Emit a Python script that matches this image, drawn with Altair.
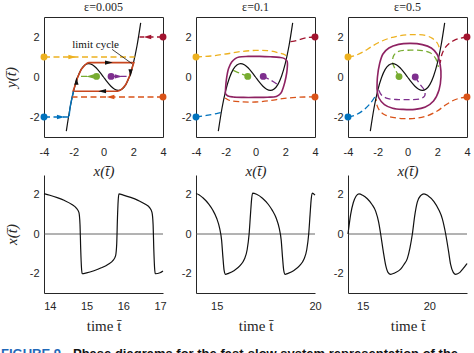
import altair as alt
import pandas as pd

SANS = "Liberation Sans"
SERIF = "Liberation Serif"
INK = "#262626"
YEL, BLU, RED, ORA, GRN, PUR = "#EDB120", "#0072BD", "#A2142F", "#D95319", "#77AC30", "#7E2F8E"
CYC1 = "#C8461F"
CYC = "#8E2262"
DASH = [6, 3.5]

# ---------------- data ----------------
titles = ["\u03b5=0.005", "\u03b5=0.1", "\u03b5=0.5"]

cubic_x = [-2.5, -2.25, -2.0, -1.75, -1.5, -1.25, -1.0, -0.75, -0.5, -0.25, 0.0,
           0.25, 0.5, 0.75, 1.0, 1.25, 1.5, 1.75, 2.0, 2.25, 2.5]
cubic_y = [-2.71, -1.55, -0.67, -0.04, 0.38, 0.60, 0.67, 0.61, 0.46, 0.245, 0.0,
           -0.245, -0.46, -0.61, -0.67, -0.60, -0.38, 0.04, 0.67, 1.55, 2.71]

# start points (dots)
start_x = [-4, -4, 4, 4]
start_y = [1.0, -2.0, 2.0, -1.0]
start_c = [YEL, BLU, RED, ORA]

# ---- panel 1 (eps = 0.005)
p1_cycle_x = [-1.0, 0.0, 1.0, 1.9, 2.04, 2.0, 1.75, 1.5, 1.25, 1.08, 0.95, 0.0, -1.0, -1.9,
              -2.04, -2.0, -1.75, -1.5, -1.25, -1.1, -1.0]
p1_cycle_y = [0.72, 0.72, 0.72, 0.72, 0.71, 0.62, 0.04, -0.38, -0.60, -0.68, -0.71, -0.71, -0.71, -0.71,
              -0.70, -0.62, -0.04, 0.38, 0.60, 0.69, 0.72]
p1_yel_x, p1_yel_y = [-4, 2.1], [1.0, 1.0]
p1_blu_x, p1_blu_y = [-4, -2.3], [-2.0, -2.0]
p1_blu2_x, p1_blu2_y = [-2.31, -2.25, -2.12, -2.02], [-1.95, -1.55, -1.05, -0.72]
p1_red_x, p1_red_y = [4, 2.42], [2.0, 2.0]
p1_ora_x, p1_ora_y = [4, -2.1], [-1.0, -1.0]
p1_grn_x, p1_grn_y = [-0.47, -1.6], [0.03, 0.03]
p1_pur_x, p1_pur_y = [0.51, 1.65], [0.03, 0.03]
p1_mid_x, p1_mid_y, p1_mid_c = [-0.47, 0.51], [0.03, 0.03], [GRN, PUR]
p1_arrow_x = [-2.1, -2.87, 2.95, 0.47, -0.91, 1.02, 0.36, -0.09, 1.82, -1.82]
p1_arrow_y = [1.0, -2.0, 2.0, -1.0, 0.03, 0.03, 0.72, -0.71, 0.2, -0.2]
p1_arrow_c = [YEL, BLU, RED, ORA, GRN, PUR, "#111111", "#111111", "#111111", "#111111"]
p1_arrow_d = ["R", "R", "L", "L", "L", "R", "R", "L", "D", "U"]
label_x, label_y, label_t = [-0.53], [1.58], ["limit cycle"]
pointer_x, pointer_y = [0.58, 1.91], [1.38, 0.67]

# ---- panel 2 (eps = 0.1)
p2_cycle_x = [-2.03, -1.97, -1.81, -1.6, -1.36, -1.1, -0.5, 0.3, 1.0, 1.6, 1.92, 2.12, 2.13, 2.05, 1.9,
              1.69, 1.4, 0.8, 0.0, -0.8, -1.5, -1.85, -2.03]
p2_cycle_y = [-0.83, -0.2, 0.42, 0.75, 0.92, 1.0, 1.03, 1.03, 1.01, 0.98, 0.93, 0.8, 0.4, 0.0, -0.45,
              -0.83, -0.97, -1.01, -1.02, -1.02, -1.0, -0.95, -0.83]
p2_yel_x = [-4, -3, -2, -1, 0, 0.8, 1.5, 2.0, 2.15]
p2_yel_y = [1.0, 1.05, 1.15, 1.27, 1.33, 1.32, 1.22, 1.1, 0.92]
p2_red_x, p2_red_y = [4, 3.5, 3.0, 2.6, 2.32], [2.0, 1.97, 1.88, 1.79, 1.77]
p2_blu_x, p2_blu_y = [-4, -3.3, -2.62, -2.3], [-2.0, -1.92, -1.83, -1.78]
p2_ora_x = [4, 3.3, 2.5, 1.8, 1.0, 0.0, -1.0, -1.7, -2.05]
p2_ora_y = [-1.0, -1.0, -1.03, -1.08, -1.18, -1.25, -1.24, -1.18, -1.05]
p2_grn_x, p2_grn_y = [-0.52, -1.0, -1.5], [0.03, 0.17, 0.33]
p2_pur_x, p2_pur_y = [0.52, 1.05, 1.58], [0.03, -0.17, -0.42]
p2_mid_x, p2_mid_y, p2_mid_c = [-0.52, 0.52], [0.03, 0.03], [GRN, PUR]

# ---- panel 3 (eps = 0.5)
p3_cycle_x = [-2.05, -2.02, -1.88, -1.65, -1.25, -0.6, 0.2, 1.0, 1.6, 1.98, 2.2, 2.25, 2.12, 1.75, 1.2,
              0.5, -0.3, -1.0, -1.55, -1.92, -2.05]
p3_cycle_y = [-0.6, 0.0, 0.65, 1.15, 1.45, 1.63, 1.68, 1.62, 1.45, 1.15, 0.6, 0.0, -0.65, -1.2, -1.5,
              -1.62, -1.62, -1.56, -1.38, -1.05, -0.6]
p3_yel_x = [-4, -3.5, -3.0, -2.5, -2.0, -1.3, -0.6, 0.3, 1.2, 1.7, 2.0, 2.15]
p3_yel_y = [1.0, 1.08, 1.25, 1.48, 1.7, 1.92, 2.05, 2.12, 2.08, 1.92, 1.7, 1.45]
p3_red_x, p3_red_y = [4, 3.5, 3.1, 2.8, 2.5, 2.3, 2.2], [2.0, 1.93, 1.82, 1.67, 1.43, 1.1, 0.7]
p3_ora_x = [4, 3.5, 3.0, 2.5, 2.0, 1.3, 0.5, -0.3, -1.0, -1.5, -1.85, -2.05, -2.12]
p3_ora_y = [-1.0, -1.06, -1.2, -1.43, -1.7, -1.95, -2.07, -2.08, -2.02, -1.9, -1.7, -1.42, -1.1]
p3_blu_x, p3_blu_y = [-4, -3.5, -3.0, -2.5, -2.2], [-2.0, -1.9, -1.68, -1.32, -1.0]
p3_grn_x = [-0.57, -0.8, -1.0, -0.92, -0.6, 0.2, 1.0, 1.55, 1.9, 2.08]
p3_grn_y = [0.02, 0.35, 0.72, 1.08, 1.28, 1.34, 1.32, 1.2, 0.92, 0.5]
p3_pur_x = [0.52, 0.85, 1.15, 1.15, 0.8, 0.2, -0.6, -1.3, -1.75, -1.98]
p3_pur_y = [0.0, -0.38, -0.68, -0.95, -1.1, -1.13, -1.13, -1.08, -0.9, -0.55]
p3_mid_x, p3_mid_y, p3_mid_c = [-0.57, 0.52], [0.02, 0.0], [GRN, PUR]

# ---- time series x(t)
ts1_t = [13.84, 14.0, 14.2, 14.4, 14.6, 14.72, 14.79, 14.82, 14.84, 14.86, 14.88, 15.0, 15.2, 15.4,
         15.6, 15.72, 15.79, 15.82, 15.84, 15.86, 15.88, 16.0, 16.2, 16.4, 16.6, 16.72, 16.78, 16.81,
         16.83, 16.85, 16.87, 17.0, 17.08]
ts1_x = [2.05, 1.97, 1.85, 1.70, 1.50, 1.32, 1.10, 0.5, -0.8, -1.7, -2.02, -1.98, -1.87, -1.72,
         -1.52, -1.34, -1.10, -0.5, 0.8, 1.7, 2.04, 1.98, 1.86, 1.71, 1.51, 1.33, 1.10, 0.5,
         -0.8, -1.7, -2.02, -1.97, -1.88]
ts2_t = [13.95, 14.1, 14.3, 14.6, 14.8, 15.0, 15.15, 15.25, 15.32, 15.38, 15.45, 15.6, 15.9, 16.2,
         16.4, 16.55, 16.65, 16.72, 16.78, 16.83, 17.03, 17.33, 17.63, 17.83, 18.03, 18.18, 18.28,
         18.35, 18.41, 18.48, 18.63, 18.93, 19.23, 19.43, 19.58, 19.68, 19.75, 19.81, 19.86, 20.0]
ts2_x = [2.06, 2.0, 1.84, 1.52, 1.22, 0.8, 0.3, -0.3, -1.2, -1.85, -2.05, -2.0, -1.85, -1.6,
         -1.3, -0.8, 0.0, 1.0, 1.8, 2.08, 2.02, 1.82, 1.5, 1.2, 0.8, 0.3, -0.3,
         -1.2, -1.85, -2.05, -2.0, -1.85, -1.6, -1.3, -0.8, 0.0, 1.0, 1.8, 2.08, 1.98]
ts3_t = [13.9, 14.1, 14.3, 14.5, 14.72, 15.0, 15.35, 15.7, 15.98, 16.2, 16.35, 16.55, 16.73, 16.9,
         17.1, 17.4, 17.85, 18.1, 18.35, 18.55, 18.73, 18.9, 19.1, 19.35, 19.6, 19.9, 20.35, 20.7,
         20.98, 21.23, 21.45, 21.6, 21.8, 21.98, 22.3, 22.55, 22.83]
ts3_x = [0.0, 1.0, 1.6, 1.92, 2.04, 1.97, 1.79, 1.5, 1.15, 0.6, 0.0, -0.9, -1.6, -1.95,
         -2.05, -1.98, -1.79, -1.55, -1.25, -0.7, 0.0, 0.9, 1.62, 1.95, 2.04, 1.95, 1.65, 1.25,
         0.77, 0.0, -0.9, -1.55, -1.95, -2.05, -1.95, -1.75, -1.5]
ts_domains = [[13.84, 17.08], [13.95, 20.0], [13.9, 22.83]]
ts_ticks = [[14, 15, 16, 17], [15, 20], [15, 20]]

caption_a = "FIGURE 9"
caption_b = "Phase diagrams for the fast-slow system representation of the"

ARROW = {
    "R": "M-1,-0.55L1,0L-1,0.55Z",
    "L": "M1,-0.55L-1,0L1,0.55Z",
    "U": "M-0.55,1L0,-1L0.55,1Z",
    "D": "M-0.55,-1L0,1L0.55,-1Z",
}


# ---------------- helpers ----------------
def frame(xs, ys):
    return pd.DataFrame({"x": xs, "y": ys, "o": list(range(len(xs)))})


def lab_axis(**kw):
    base = dict(grid=False, ticks=False, labelFont=SANS, labelFontSize=11, labelColor=INK,
                labelExpr="'' + datum.value", labelFlush=False)
    base.update(kw)
    return alt.Axis(**base)


def title_kw(text, italic=True):
    d = dict(title=text, titleFont=SERIF, titleFontSize=15, titleFontWeight="normal", titleColor=INK)
    if italic:
        d["titleFontStyle"] = "italic"
    return d


def encs(ax, ay, xdom, ydom):
    return dict(
        x=alt.X("x:Q", scale=alt.Scale(domain=xdom, nice=False, zero=False), axis=ax),
        y=alt.Y("y:Q", scale=alt.Scale(domain=ydom, nice=False, zero=False), axis=ay),
    )


def line(xs, ys, color, enc, dash=None, width=1.3, interp="linear"):
    kw = dict(color=color, strokeWidth=width, interpolate=interp)
    if dash is not None:
        kw["strokeDash"] = dash
    return alt.Chart(frame(xs, ys)).mark_line(**kw).encode(order="o:Q", **enc)


def dots(xs, ys, cs, enc):
    df = pd.DataFrame({"x": xs, "y": ys, "c": cs})
    return alt.Chart(df).mark_circle(size=48, opacity=1).encode(
        color=alt.Color("c:N", scale=None), **enc)


def arrows(xs, ys, cs, ds, enc):
    df = pd.DataFrame({"x": xs, "y": ys, "c": cs, "s": [ARROW[d] for d in ds]})
    return alt.Chart(df).mark_point(filled=True, size=60, opacity=1, strokeWidth=0).encode(
        color=alt.Color("c:N", scale=None), shape=alt.Shape("s:N", scale=None), **enc)


def top_enc(first):
    ax = lab_axis(values=[-4, -2, 0, 2, 4], domain=False, labelPadding=9,
                  titleY=33, titleBaseline="middle", **title_kw("x(t\u0304)"))
    if first:
        ay = lab_axis(values=[-2, 0, 2], domain=False, labelPadding=5, titleX=-34, titleY=60,
                      titleAngle=270, titleBaseline="middle", titleAlign="center",
                      **title_kw("y(t\u0304)"))
    else:
        ay = lab_axis(values=[-2, 0, 2], domain=False, labelPadding=5, title=None)
    return encs(ax, ay, [-4, 4], [-3, 3])


def top_panel(idx, layers):
    return alt.layer(*layers).properties(
        width=119, height=120,
        title=alt.TitleParams(titles[idx], font=SERIF, fontSize=12, fontWeight="normal",
                              color=INK, offset=3, frame="group"),
        view=alt.ViewBackground(stroke=INK, strokeWidth=1),
    )


# ---------------- top row ----------------
e1 = top_enc(True)
panel1 = top_panel(0, [
    line(cubic_x, cubic_y, "#111111", e1, width=1.2, interp="monotone"),
    line(p1_cycle_x, p1_cycle_y, CYC1, e1, width=1.6),
    line(p1_yel_x, p1_yel_y, YEL, e1, dash=DASH),
    line(p1_blu_x, p1_blu_y, BLU, e1, dash=DASH),
    line(p1_blu2_x, p1_blu2_y, BLU, e1, width=1.4, interp="monotone"),
    line(p1_red_x, p1_red_y, RED, e1, dash=DASH),
    line(p1_ora_x, p1_ora_y, ORA, e1, dash=DASH),
    line(p1_grn_x, p1_grn_y, GRN, e1, dash=DASH),
    line(p1_pur_x, p1_pur_y, PUR, e1, dash=DASH),
    line(pointer_x, pointer_y, "#111111", e1, width=0.8),
    alt.Chart(pd.DataFrame({"x": label_x, "y": label_y, "t": label_t})).mark_text(
        font=SERIF, fontSize=11, color="#111111").encode(text="t:N", **e1),
    dots(start_x + p1_mid_x, start_y + p1_mid_y, start_c + p1_mid_c, e1),
    arrows(p1_arrow_x, p1_arrow_y, p1_arrow_c, p1_arrow_d, e1),
])

e2 = top_enc(False)
panel2 = top_panel(1, [
    line(p2_yel_x, p2_yel_y, YEL, e2, dash=DASH, interp="catmull-rom"),
    line(p2_red_x, p2_red_y, RED, e2, dash=DASH, interp="catmull-rom"),
    line(p2_blu_x, p2_blu_y, BLU, e2, dash=DASH, interp="catmull-rom"),
    line(p2_ora_x, p2_ora_y, ORA, e2, dash=DASH, interp="catmull-rom"),
    line(p2_grn_x, p2_grn_y, GRN, e2, dash=DASH, interp="catmull-rom"),
    line(p2_pur_x, p2_pur_y, PUR, e2, dash=DASH, interp="catmull-rom"),
    line(cubic_x, cubic_y, "#111111", e2, width=1.2, interp="monotone"),
    line(p2_cycle_x, p2_cycle_y, CYC, e2, width=1.6, interp="catmull-rom"),
    dots(start_x + p2_mid_x, start_y + p2_mid_y, start_c + p2_mid_c, e2),
])

e3 = top_enc(False)
panel3 = top_panel(2, [
    line(p3_yel_x, p3_yel_y, YEL, e3, dash=DASH, interp="catmull-rom"),
    line(p3_red_x, p3_red_y, RED, e3, dash=DASH, interp="catmull-rom"),
    line(p3_blu_x, p3_blu_y, BLU, e3, dash=DASH, interp="catmull-rom"),
    line(p3_ora_x, p3_ora_y, ORA, e3, dash=DASH, interp="catmull-rom"),
    line(p3_grn_x, p3_grn_y, GRN, e3, dash=DASH, interp="catmull-rom"),
    line(p3_pur_x, p3_pur_y, PUR, e3, dash=DASH, interp="catmull-rom"),
    line(cubic_x, cubic_y, "#111111", e3, width=1.2, interp="monotone"),
    line(p3_cycle_x, p3_cycle_y, CYC, e3, width=1.6, interp="catmull-rom"),
    dots(start_x + p3_mid_x, start_y + p3_mid_y, start_c + p3_mid_c, e3),
])


# ---------------- bottom row ----------------
def bottom_panel(idx, ts_t, ts_x, extra=None):
    ax = lab_axis(values=ts_ticks[idx], domain=True, domainColor=INK, domainWidth=1,
                  labelPadding=7, titleY=32, titleBaseline="middle",
                  **title_kw("time t\u0304", italic=False))
    if idx == 0:
        ay = lab_axis(values=[-2, 0, 2], domain=True, domainColor=INK, domainWidth=1, labelPadding=5,
                      titleX=-33, titleY=59, titleAngle=270, titleBaseline="middle",
                      titleAlign="center", **title_kw("x(t\u0304)"))
    else:
        ay = lab_axis(values=[-2, 0, 2], domain=True, domainColor=INK, domainWidth=1, labelPadding=5,
                      title=None)
    e = encs(ax, ay, ts_domains[idx], [-3, 3])
    zero = alt.Chart(pd.DataFrame({"y": [0.0]})).mark_rule(color="#555555", strokeWidth=0.9).encode(
        y=e["y"])
    layers = [zero, line(ts_t, ts_x, "#111111", e, width=1.2, interp="monotone")]
    if extra:
        layers += extra
    return alt.layer(*layers).properties(
        width=119, height=118, view=alt.ViewBackground(stroke="transparent"))


cap = [
    alt.Chart(pd.DataFrame({"t": [caption_a]})).mark_text(
        align="left", baseline="alphabetic", font=SANS, fontSize=13, fontWeight="bold",
        color="#1F68B8").encode(text="t:N", x=alt.value(-43), y=alt.value(183)),
    alt.Chart(pd.DataFrame({"t": [caption_b]})).mark_text(
        align="left", baseline="alphabetic", font=SANS, fontSize=13, fontWeight="bold",
        color="#111111").encode(text="t:N", x=alt.value(29), y=alt.value(183)),
]

bottom1 = bottom_panel(0, ts1_t, ts1_x, cap)
bottom2 = bottom_panel(1, ts2_t, ts2_x)
bottom3 = bottom_panel(2, ts3_t, ts3_x)

chart = alt.ConcatChart(
    concat=[panel1, panel2, panel3, bottom1, bottom2, bottom3],
    columns=3,
    spacing={"row": 38, "column": 33},
    bounds="flush",
).properties(
    padding={"left": 0, "top": 0, "right": 0, "bottom": 0},
    background="white",
)

chart.save("out.html", embed_options={"renderer": "svg", "actions": False})
